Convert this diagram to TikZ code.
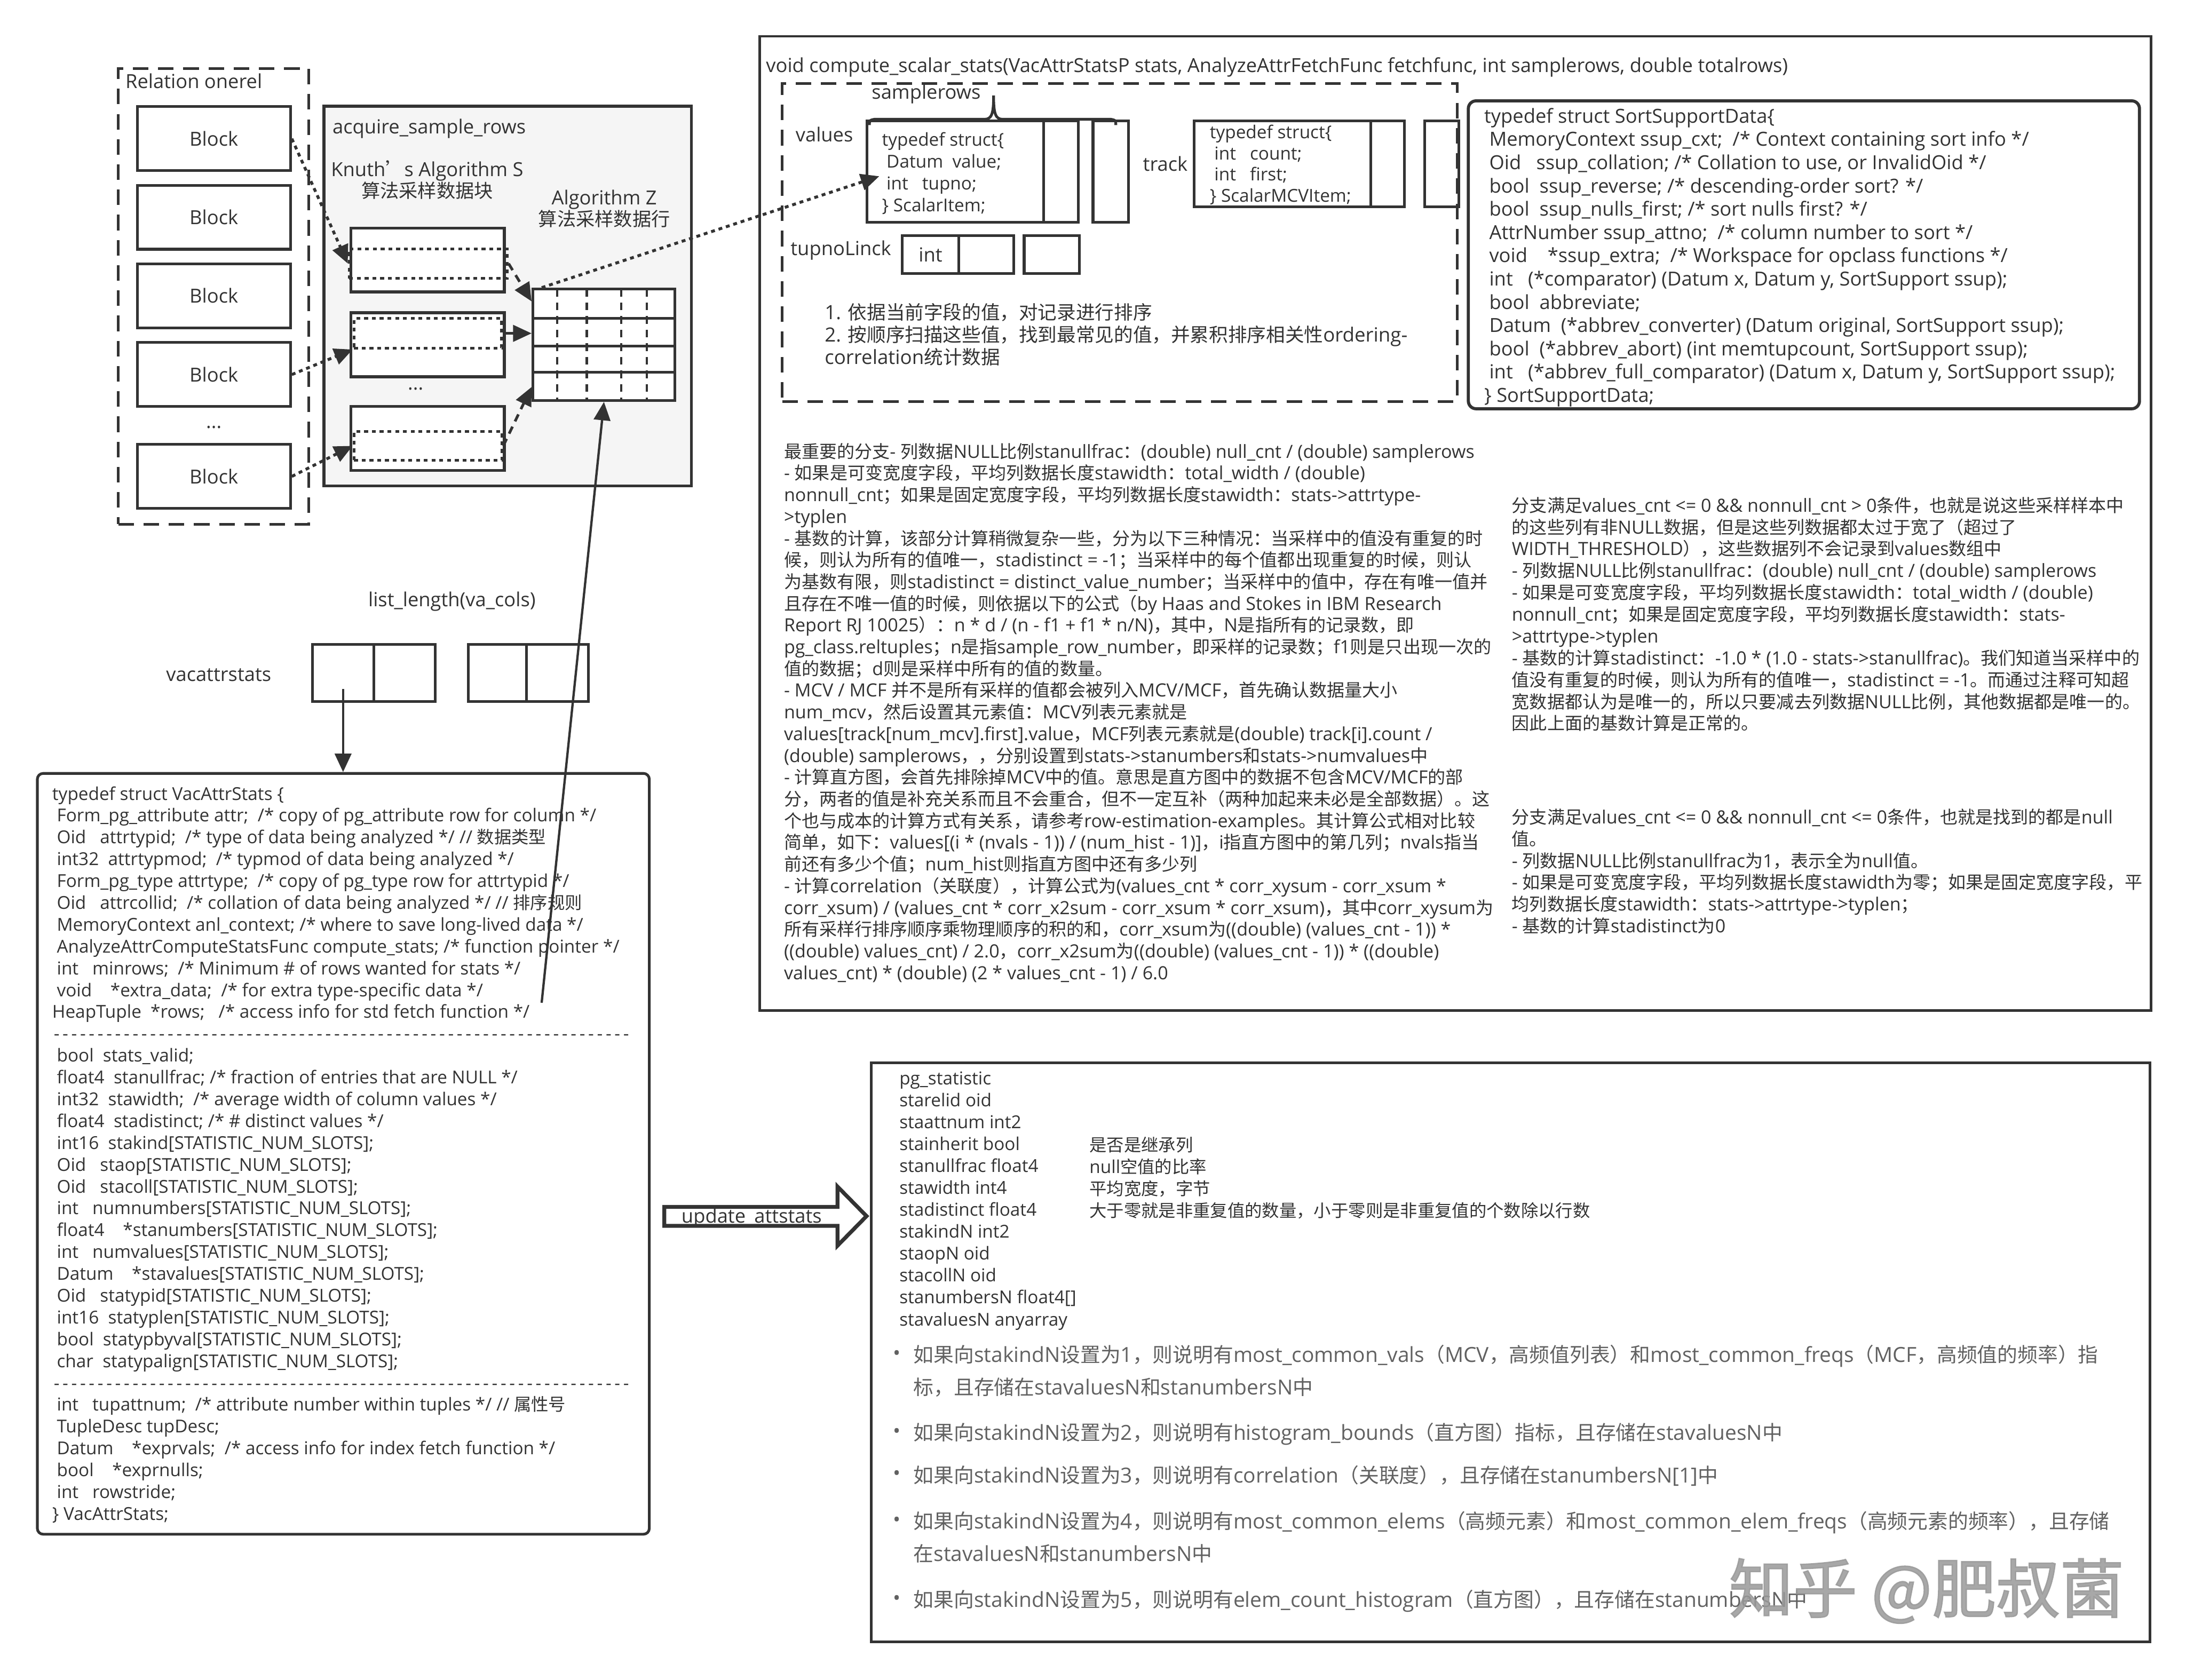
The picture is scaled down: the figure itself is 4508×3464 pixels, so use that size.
\documentclass[tikz,border=0pt]{standalone}
\usepackage{fontspec}
\setmainfont{Open Sans}[Scale=1.03]
\newfontfamily\cjkfont{Noto Sans CJK SC}
\newfontfamily\markfont{Noto Sans CJK SC}[FakeBold=2]
\usetikzlibrary{calc,arrows.meta}
\definecolor{ink}{HTML}{333333}
\definecolor{paper}{HTML}{F5F5F5}

% Han characters and full-width punctuation are set in the CJK face
\XeTeXinterchartokenstate=1
\newXeTeXintercharclass\hanclass
\newcount\hancode
\newcommand\hanrange[2]{%
  \hancode=#1 %
  \loop\XeTeXcharclass\hancode=\hanclass
    \advance\hancode by 1 %
  \ifnum\hancode<#2 \repeat}
\hanrange{"2018}{"2020}
\hanrange{"3000}{"3040}
\hanrange{"4E00}{"A000}
\hanrange{"FF00}{"FFF0}
\XeTeXinterchartoks 0 \hanclass = {\cjkfont}
\XeTeXinterchartoks 4095 \hanclass = {\cjkfont}
\XeTeXinterchartoks \hanclass 0 = {\normalfont}
\XeTeXinterchartoks \hanclass 4095 = {\normalfont}

\newcommand\dashrule{\hbox to 298pt{\xleaders\hbox to 4.5pt{\hss-\hss}\hfill}}

\begin{document}
\begin{tikzpicture}[x=0.25pt, y=-0.25pt,
    every node/.style={inner sep=0pt, text=ink},
    lbl/.style={font=\fontsize{9.7}{11}\selectfont},
    code/.style={font=\fontsize{8.9}{11.25}\selectfont, align=left, anchor=north west},
    note/.style={code, font=\fontsize{9.1}{11.2}\selectfont},
    box/.style={draw=ink, line width=1.4pt},
    blockbox/.style={box, fill=white, minimum width=79pt, minimum height=33pt},
    dotbox/.style={draw=ink, line width=1.4pt, dash pattern=on 2pt off 2pt},
    dashbox/.style={draw=ink, line width=1.4pt, dash pattern=on 8pt off 5pt},
    cell/.style={box, minimum height=29.5pt},
    kind/.style={code, font=\fontsize{10.4}{16.75}\selectfont, text=black!62},
    arrow/.style={-{Triangle[length=9.5pt, width=8.5pt]}, line width=1.2pt, draw=ink},
    dotarrow/.style={arrow, line width=1.5pt, dash pattern=on 2pt off 2pt},
    dasharrow/.style={arrow, line width=1.4pt, dash pattern=on 4pt off 3pt},
  ]
  \path[fill=white] (0,0) rectangle (4508,3464);
  \useasboundingbox (0,0) rectangle (4508,3464);

  % relation and its blocks
  \node[dashbox, minimum width=98.25pt, minimum height=235pt] (rel) at (440.5,611) {};
  \node[lbl, anchor=west] (reltitle) at (258,167) {Relation onerel};
  \node[blockbox, lbl] (blk1) at (441,286) {Block};
  \node[blockbox, lbl] (blk2) at (441,448) {Block};
  \node[blockbox, lbl] (blk3) at (441,610) {Block};
  \node[blockbox, lbl] (blk4) at (441,772.5) {Block};
  \node[lbl] (blkdots) at (441,881) {...};
  \node[blockbox, lbl] (blk5) at (441,982.5) {Block};

  % sampling
  \node[box, fill=paper, minimum width=189.5pt, minimum height=195.75pt] (acq) at (1047,610.5) {};
  \node[lbl, anchor=west] (acqtitle) at (685,265) {acquire\_sample\_rows};
  \node[lbl, align=center] (algs) at (881,371) {Knuth’s Algorithm S\\算法采样数据块};
  \node[lbl, align=center] (algz) at (1246,430.5) {Algorithm Z\\算法采样数据行};
  \node[blockbox, minimum height=32.75pt] (sampA) at (882,536.5) {};
  \node[dotbox, minimum width=81.5pt, minimum height=15.25pt] (dA) at (883,543.5) {};
  \node[blockbox] (sampB) at (882,711) {};
  \node[dotbox, minimum width=76pt, minimum height=15.25pt] (dB) at (882,687.5) {};
  \node[lbl] (sampdots) at (857,802) {...};
  \node[blockbox] (sampC) at (882,904) {};
  \node[dotbox, minimum width=76.25pt, minimum height=14.75pt] (dC) at (882.5,919.5) {};

  \node[box, fill=white, minimum width=73.25pt, minimum height=57.5pt] (grid) at (1245.5,711) {};
  \foreach \y in {657,714,768}
    \draw[ink, line width=1.4pt] (1099,\y) -- (1392,\y);
  \foreach \x in {1149,1210,1281,1334}
    \draw[ink, line width=1.2pt, dash pattern=on 4pt off 3pt] (\x,596) -- (\x,826);

  \draw[dotarrow] (blk1.east) -- (dA.west);
  \draw[dotarrow] (blk4.east) -- (dB.south west);
  \draw[dotarrow] (blk5.east) -- (dC.west);
  \draw[dasharrow] (dA.east) -- ($(grid.north west)!0.12!(grid.south west)$);
  \draw[arrow] (dB.east) -- (dB.east -| grid.west);
  \draw[dasharrow] (dC.east) -- ($(grid.north west)!0.87!(grid.south west)$);

  % vacattrstats array
  \node[lbl] (listlen) at (932,1240) {list\_length(va\_cols)};
  \node[lbl] (vaclabel) at (451,1392) {vacattrstats};
  \node[cell, minimum width=31.75pt] (va1) at (707.5,1388) {};
  \node[cell, minimum width=31.75pt] (va2) at (834.5,1388) {};
  \node[cell, minimum width=30pt] (vb1) at (1026,1388) {};
  \node[cell, minimum width=31.75pt] (vb2) at (1149.5,1388) {};

  \node[box, rounded corners=3pt, minimum width=315.5pt, minimum height=392.25pt] (vas) at (708,2379.5) {};
  \node[code] (vastext) at (107,1621) {typedef struct VacAttrStats \{\\
~Form\_pg\_attribute attr;~~/* copy of pg\_attribute row for column */\\
~Oid~~~attrtypid;~~/* type of data being analyzed */ // 数据类型\\
~int32~~attrtypmod;~~/* typmod of data being analyzed */\\
~Form\_pg\_type attrtype;~~/* copy of pg\_type row for attrtypid */\\
~Oid~~~attrcollid;~~/* collation of data being analyzed */ // 排序规则\\
~MemoryContext anl\_context; /* where to save long-lived data */\\
~AnalyzeAttrComputeStatsFunc compute\_stats; /* function pointer */\\
~int~~~minrows;~~/* Minimum \# of rows wanted for stats */\\
~void~~~~*extra\_data;~~/* for extra type-specific data */\\
HeapTuple~~*rows;~~~/* access info for std fetch function */\\
\dashrule\\
~bool~~stats\_valid;\\
~float4~~stanullfrac; /* fraction of entries that are NULL */\\
~int32~~stawidth;~~/* average width of column values */\\
~float4~~stadistinct; /* \# distinct values */\\
~int16~~stakind[STATISTIC\_NUM\_SLOTS];\\
~Oid~~~staop[STATISTIC\_NUM\_SLOTS];\\
~Oid~~~stacoll[STATISTIC\_NUM\_SLOTS];\\
~int~~~numnumbers[STATISTIC\_NUM\_SLOTS];\\
~float4~~~~*stanumbers[STATISTIC\_NUM\_SLOTS];\\
~int~~~numvalues[STATISTIC\_NUM\_SLOTS];\\
~Datum~~~~*stavalues[STATISTIC\_NUM\_SLOTS];\\
~Oid~~~statypid[STATISTIC\_NUM\_SLOTS];\\
~int16~~statyplen[STATISTIC\_NUM\_SLOTS];\\
~bool~~statypbyval[STATISTIC\_NUM\_SLOTS];\\
~char~~statypalign[STATISTIC\_NUM\_SLOTS];\\
\dashrule\\
~int~~~tupattnum;~~/* attribute number within tuples */ // 属性号\\
~TupleDesc tupDesc;\\
~Datum~~~~*exprvals;~~/* access info for index fetch function */\\
~bool~~~~*exprnulls;\\
~int~~~rowstride;\\
\} VacAttrStats;};

  \draw[arrow] ($(va1.center)+(0,33)$) -- (va1.center |- vas.north);
  \coordinate (rowsptr) at (1117,2068);
  \draw[arrow] (rowsptr) -- (grid.south);

  % compute_scalar_stats
  \node[box, line width=1.3pt, minimum width=717.25pt, minimum height=502.25pt] (css) at (3001.5,1079.5) {};
  \node[anchor=west, font=\fontsize{9.7}{11}\selectfont] (csstitle) at (1579,139) {void compute\_scalar\_stats(VacAttrStatsP stats, AnalyzeAttrFetchFunc fetchfunc, int samplerows, double totalrows)};
  \node[dashbox, minimum width=348pt, minimum height=164pt] (sortarea) at (2309,500) {};

  \node[lbl] (samplerows) at (1910,194) {samplerows};
  \draw[ink, line width=1.4pt] (1793,258) .. controls (1793,248) .. (1803,246) -- (2030,246)
    .. controls (2045,246) and (2049,235) .. (2049,197)
    .. controls (2049,235) and (2053,246) .. (2068,246) -- (2291,246)
    .. controls (2301,248) .. (2301,258);
  \node[lbl] (valueslbl) at (1700,277) {values};
  \node[box, minimum width=91pt, minimum height=52.25pt] (scalar) at (1970,353.5) {};
  \node[box, minimum width=18pt, minimum height=52.25pt] (scalar2) at (2188,353.5) {};
  \node[box, minimum width=18.25pt, minimum height=52.25pt] (scalar3) at (2290.5,353.5) {};
  \node[code] (scalartext) at (1818,272) {typedef struct\{\\~Datum~~value;\\~int~~~tupno;\\\}~ScalarItem;};

  \node[lbl] (tracklbl) at (2403,338) {track};
  \node[box, minimum width=91pt, minimum height=44.25pt] (mcv) at (2645,337.5) {};
  \node[box, minimum width=17.25pt, minimum height=44.25pt] (mcv2) at (2861.5,337.5) {};
  \node[box, minimum width=17.5pt, minimum height=44.25pt] (mcv3) at (2973,337.5) {};
  \node[code, font=\fontsize{8.9}{10.9}\selectfont] (mcvtext) at (2494,257) {typedef struct\{\\~int~~~count;\\~int~~~first;\\\}~ScalarMCVItem;};

  \node[lbl] (tupnolbl) at (1734,516) {tupnoLinck};
  \node[box, lbl, minimum width=29pt, minimum height=19.5pt] (tup1) at (1919,525) {int};
  \node[box, minimum width=28.5pt, minimum height=19.5pt] (tup2) at (2034,525) {};
  \node[box, minimum width=28.5pt, minimum height=19.5pt] (tup3) at (2169,525) {};

  \node[code, font=\fontsize{9.8}{11.5}\selectfont] (steps) at (1700,625) {1. 依据当前字段的值，对记录进行排序\\
2. 按顺序扫描这些值，找到最常见的值，并累积排序相关性ordering-\\
correlation统计数据};

  \draw[dotarrow] ($(grid.north west)!0.07!(grid.north east)$) -- ($(scalar.west)+(28,10)$);

  \node[box, line width=1.6pt, rounded corners=4pt, fill=white, minimum width=346pt, minimum height=158.75pt] (ssd) at (3720,525.5) {};
  \node[code, font=\fontsize{9.7}{12}\selectfont] (ssdtext) at (3060,222) {typedef struct SortSupportData\{\\
~MemoryContext ssup\_cxt;~~/* Context containing sort info */\\
~Oid~~~ssup\_collation; /* Collation to use, or InvalidOid */\\
~bool~~ssup\_reverse; /* descending-order sort? */\\
~bool~~ssup\_nulls\_first; /* sort nulls first? */\\
~AttrNumber ssup\_attno;~~/* column number to sort */\\
~void~~~~*ssup\_extra;~~/* Workspace for opclass functions */\\
~int~~~(*comparator) (Datum x, Datum y, SortSupport ssup);\\
~bool~~abbreviate;\\
~Datum~~(*abbrev\_converter) (Datum original, SortSupport ssup);\\
~bool~~(*abbrev\_abort) (int memtupcount, SortSupport ssup);\\
~int~~~(*abbrev\_full\_comparator) (Datum x, Datum y, SortSupport ssup);\\
\} SortSupportData;};

  \node[note] (notes) at (1616,913) {最重要的分支- 列数据NULL比例stanullfrac：(double) null\_cnt / (double) samplerows\\
- 如果是可变宽度字段，平均列数据长度stawidth：total\_width / (double)\\
nonnull\_cnt；如果是固定宽度字段，平均列数据长度stawidth：stats->attrtype-\\
>typlen\\
- 基数的计算，该部分计算稍微复杂一些，分为以下三种情况：当采样中的值没有重复的时\\
候，则认为所有的值唯一，stadistinct = -1；当采样中的每个值都出现重复的时候，则认\\
为基数有限，则stadistinct = distinct\_value\_number；当采样中的值中，存在有唯一值并\\
且存在不唯一值的时候，则依据以下的公式（by Haas and Stokes in IBM Research\\
Report RJ 10025）：n * d / (n - f1 + f1 * n/N)，其中，N是指所有的记录数，即\\
pg\_class.reltuples；n是指sample\_row\_number，即采样的记录数；f1则是只出现一次的\\
值的数据；d则是采样中所有的值的数量。\\
- MCV / MCF 并不是所有采样的值都会被列入MCV/MCF，首先确认数据量大小\\
num\_mcv，然后设置其元素值：MCV列表元素就是\\
values[track[num\_mcv].first].value，MCF列表元素就是(double) track[i].count /\\
(double) samplerows，，分别设置到stats->stanumbers和stats->numvalues中\\
- 计算直方图，会首先排除掉MCV中的值。意思是直方图中的数据不包含MCV/MCF的部\\
分，两者的值是补充关系而且不会重合，但不一定互补（两种加起来未必是全部数据）。这\\
个也与成本的计算方式有关系，请参考row-estimation-examples。其计算公式相对比较\\
简单，如下：values[(i * (nvals - 1)) / (num\_hist - 1)]，i指直方图中的第几列；nvals指当\\
前还有多少个值；num\_hist则指直方图中还有多少列\\
- 计算correlation（关联度），计算公式为(values\_cnt * corr\_xysum - corr\_xsum *\\
corr\_xsum) / (values\_cnt * corr\_x2sum - corr\_xsum * corr\_xsum)，其中corr\_xysum为\\
所有采样行排序顺序乘物理顺序的积的和，corr\_xsum为((double) (values\_cnt - 1)) *\\
((double) values\_cnt) / 2.0，corr\_x2sum为((double) (values\_cnt - 1)) * ((double)\\
values\_cnt) * (double) (2 * values\_cnt - 1) / 6.0};

  \node[note, font=\fontsize{9.1}{11.25}\selectfont] (widenote) at (3117,1024) {分支满足values\_cnt <= 0 \&\& nonnull\_cnt > 0条件，也就是说这些采样样本中\\
的这些列有非NULL数据，但是这些列数据都太过于宽了（超过了\\
WIDTH\_THRESHOLD），这些数据列不会记录到values数组中\\
- 列数据NULL比例stanullfrac：(double) null\_cnt / (double) samplerows\\
- 如果是可变宽度字段，平均列数据长度stawidth：total\_width / (double)\\
nonnull\_cnt；如果是固定宽度字段，平均列数据长度stawidth：stats-\\
>attrtype->typlen\\
- 基数的计算stadistinct：-1.0 * (1.0 - stats->stanullfrac)。我们知道当采样中的\\
值没有重复的时候，则认为所有的值唯一，stadistinct = -1。而通过注释可知超\\
宽数据都认为是唯一的，所以只要减去列数据NULL比例，其他数据都是唯一的。\\
因此上面的基数计算是正常的。};

  \node[note, font=\fontsize{9.1}{11.25}\selectfont] (nullnote) at (3117,1667) {分支满足values\_cnt <= 0 \&\& nonnull\_cnt <= 0条件，也就是找到的都是null\\
值。\\
- 列数据NULL比例stanullfrac为1，表示全为null值。\\
- 如果是可变宽度字段，平均列数据长度stawidth为零；如果是固定宽度字段，平\\
均列数据长度stawidth：stats->attrtype->typlen；\\
- 基数的计算stadistinct为0};

  % update_attstats into pg_statistic
  \draw[ink, line width=2pt, fill=white] (1370,2489) -- (1727,2489) -- (1727,2447) -- (1787,2508)
    -- (1727,2569) -- (1727,2528) -- (1370,2528) -- cycle;
  \node[lbl] (upd) at (1550,2512) {update\_attstats};

  \node[box, minimum width=659.25pt, minimum height=298.5pt] (stat) at (3115.5,2789) {};
  \node[code, font=\fontsize{8.9}{11.3}\selectfont] (stattext) at (1854,2209) {pg\_statistic\\starelid oid\\staattnum int2\\stainherit bool\\stanullfrac float4\\stawidth int4\\stadistinct float4\\stakindN int2\\staopN oid\\stacollN oid\\stanumbersN float4[]\\stavaluesN anyarray};
  \node[code, font=\fontsize{8.9}{11.3}\selectfont] (statnote) at (2246,2344) {是否是继承列\\null空值的比率\\平均宽度，字节\\大于零就是非重复值的数量，小于零则是非重复值的个数除以行数};

  \foreach \y/\nm in {2795/bul1, 2955/bul2, 3043/bul3, 3138/bul4, 3300/bul5}
    \node[text=black!62, font=\fontsize{10}{12}\selectfont] (\nm) at (1850,\y) {•};
  \node[kind] (kind1) at (1883,2773) {如果向stakindN设置为1，则说明有most\_common\_vals（MCV，高频值列表）和most\_common\_freqs（MCF，高频值的频率）指\\标，且存储在stavaluesN和stanumbersN中};
  \node[kind] (kind2) at (1883,2933) {如果向stakindN设置为2，则说明有histogram\_bounds（直方图）指标，且存储在stavaluesN中};
  \node[kind] (kind3) at (1883,3021) {如果向stakindN设置为3，则说明有correlation（关联度），且存储在stanumbersN[1]中};
  \node[kind] (kind4) at (1883,3116) {如果向stakindN设置为4，则说明有most\_common\_elems（高频元素）和most\_common\_elem\_freqs（高频元素的频率），且存储\\在stavaluesN和stanumbersN中};
  \node[kind] (kind5) at (1883,3278) {如果向stakindN设置为5，则说明有elem\_count\_histogram（直方图），且存储在stanumbersN中};

  \node[text=black!40, opacity=0.85, font={\XeTeXinterchartokenstate=0 \markfont\fontsize{33}{40}\selectfont}] (mark) at (3973,3281) {知乎 @肥叔菌};
\end{tikzpicture}
\end{document}
